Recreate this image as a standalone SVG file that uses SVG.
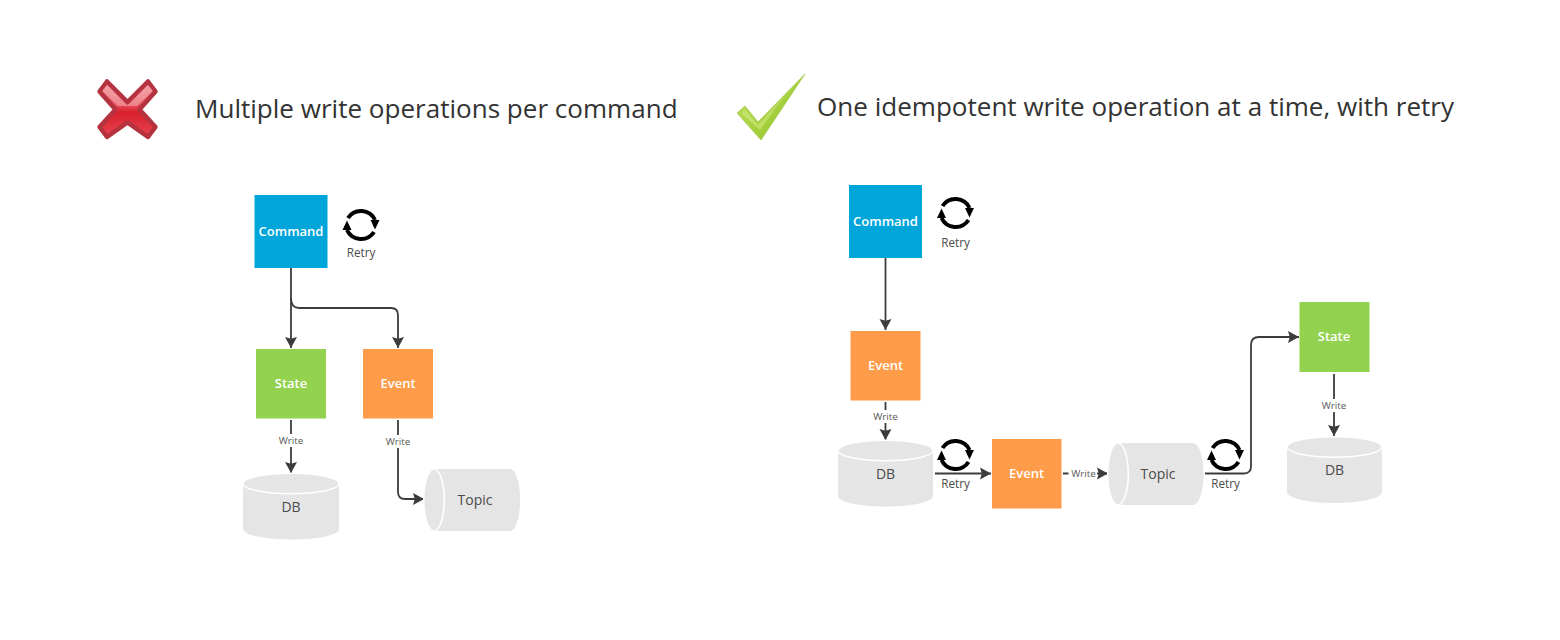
<svg xmlns="http://www.w3.org/2000/svg" width="1560" height="640" viewBox="0 0 1560 640">
<style>
text{font-family:"Open Sans","Noto Sans","Liberation Sans",sans-serif;text-anchor:middle}
.head{font-size:26.050px;fill:#333;text-anchor:start}
.node{font-size:13px;font-weight:600;fill:#fff}
.store{font-size:14px;fill:#4a4a4a}
.retry{font-size:11.700px;fill:#4a4a4a}
.write{font-size:9.800px;fill:#555}
.conn{fill:none;stroke:#3c3c3c;stroke-width:1.800}
.cyl{fill:#e5e5e5}
.cap{fill:#e5e5e5;stroke:#fff;stroke-width:1.500}
.blue{fill:#00a5d9}.green{fill:#92d24f}.orange{fill:#ff9c4a}
</style>
<defs>
<marker id="arrow" markerUnits="userSpaceOnUse" markerWidth="13" markerHeight="14" refX="11" refY="6.500" orient="auto"><path d="M0 .5L11 6.500L0 12.500L1.800 6.500Z" fill="#3c3c3c"/></marker>
<linearGradient id="xg" x1="0" y1="0" x2="0" y2="1"><stop offset="0" stop-color="#f28088"/><stop offset=".42" stop-color="#e8505c"/><stop offset=".55" stop-color="#d8202e"/><stop offset="1" stop-color="#e8444f"/></linearGradient>
<linearGradient id="cg" x1="0" y1="0" x2="1" y2="1"><stop offset="0" stop-color="#c4e562"/><stop offset="1" stop-color="#8cbf22"/></linearGradient>
<g id="retryIcon">
<path d="M-13-7A15.500 15.500 0 0 1 14-5" fill="none" stroke="#000" stroke-width="4"/>
<path d="M13 7A15.500 15.500 0 0 1-14 5" fill="none" stroke="#000" stroke-width="4"/>
<path d="M9.500-5L18.500-5L14 4.500Z" fill="#000"/>
<path d="M-18.500 5L-9.500 5L-14-4.500Z" fill="#000"/>
</g>
</defs>
<rect width="1560" height="640" fill="#fff"/>

<g id="icon-cross">
<path d="M99.500 91.500L107 81.500L127.500 102L148 81.500L155.500 91.500L139.500 109.500L155.500 127L148 137L127.500 122.500L107 137L99.500 127L115.500 109.500Z" fill="url(#xg)" stroke="#b4333f" stroke-width="4.500" stroke-linejoin="round"/>
<path d="M102 90.500L107 85L127.500 105.500L148 85L153 90.500L137 106L118 106Z" fill="#fff" fill-opacity=".3"/>
</g>
<text class="head" x="195" y="118">Multiple write operations per command</text>
<g id="icon-check">
<path d="M737 113L745 106L758 122L805 74L761 140Z" fill="url(#cg)" stroke="#9ac23c" stroke-width=".6"/>
<path d="M741 113L745 109.500L758 125L785 95L760 130Z" fill="#d4ec84" fill-opacity=".55"/>
</g>
<text class="head" x="817" y="116">One idempotent write operation at a time, with retry</text>

<g id="connectors">
<path class="conn" d="M291 268V348" marker-end="url(#arrow)"/>
<path class="conn" d="M291 298Q291 308 299 308H391Q398 308 398 315V348" marker-end="url(#arrow)"/>
<path class="conn" d="M291 420V473" marker-end="url(#arrow)"/>
<path class="conn" d="M398 420V492Q398 499 405 499H424" marker-end="url(#arrow)"/>
<path class="conn" d="M885.500 258V330" marker-end="url(#arrow)"/>
<path class="conn" d="M885.500 402V440" marker-end="url(#arrow)"/>
<path class="conn" d="M935 473.500H991" marker-end="url(#arrow)"/>
<path class="conn" d="M1063 473.500H1108" marker-end="url(#arrow)"/>
<path class="conn" d="M1205 473.500H1244Q1251 473.500 1251 466V345Q1251 337 1259 337H1299" marker-end="url(#arrow)"/>
<path class="conn" d="M1334 374V436" marker-end="url(#arrow)"/>
</g>

<g id="labels">
<rect x="277" y="434" width="28" height="13" fill="#fff"/><text class="write" x="291" y="444">Write</text>
<rect x="384" y="435" width="28" height="13" fill="#fff"/><text class="write" x="398" y="445">Write</text>
<rect x="871" y="410" width="28" height="13" fill="#fff"/><text class="write" x="885.500" y="420">Write</text>
<rect x="1068.500" y="467" width="28.500" height="13" fill="#fff"/><text class="write" x="1083.500" y="477">Write</text>
<rect x="1320" y="399" width="28" height="13" fill="#fff"/><text class="write" x="1334" y="409">Write</text>
</g>

<g id="retry-left-1"><use href="#retryIcon" x="361" y="225"/><text class="retry" x="361" y="257">Retry</text></g>
<g id="retry-right-1"><use href="#retryIcon" x="955.500" y="213"/><text class="retry" x="955.500" y="247">Retry</text></g>
<g id="retry-right-2"><use href="#retryIcon" x="955.500" y="455"/><text class="retry" x="955.500" y="488">Retry</text></g>
<g id="retry-right-3"><use href="#retryIcon" x="1225.500" y="455"/><text class="retry" x="1225.500" y="488">Retry</text></g>

<g id="command-left"><rect class="blue" x="254.500" y="195" width="73" height="73"/><text class="node" x="291" y="235.500">Command</text></g>
<g id="state-left"><rect class="green" x="256" y="349" width="70" height="69.500"/><text class="node" x="291" y="388">State</text></g>
<g id="event-left"><rect class="orange" x="363" y="349" width="70" height="69.500"/><text class="node" x="398" y="388">Event</text></g>
<g id="db-left"><path class="cyl" d="M243 484V529C243 535 264 539.500 291 539.500S339 535 339 529V484Z"/><ellipse class="cap" cx="291" cy="483.500" rx="48" ry="10.250"/><text class="store" x="291" y="512">DB</text></g>
<g id="topic-left"><path class="cyl" d="M434 469H510C516 469 520 483 520 500S516 531 510 531H434Z"/><ellipse class="cap" cx="434" cy="500" rx="10.250" ry="31"/><text class="store" x="475" y="505">Topic</text></g>

<g id="command-right"><rect class="blue" x="849" y="185" width="73" height="73"/><text class="node" x="885.500" y="225.500">Command</text></g>
<g id="event-right-1"><rect class="orange" x="850.500" y="331" width="70" height="69.500"/><text class="node" x="885.500" y="369.500">Event</text></g>
<g id="db-right-1"><path class="cyl" d="M838 451V496C838 502 859 506.500 885.500 506.500S933 502 933 496V451Z"/><ellipse class="cap" cx="885.500" cy="450.500" rx="47.500" ry="10.250"/><text class="store" x="885.500" y="479">DB</text></g>
<g id="event-right-2"><rect class="orange" x="992" y="439" width="69.500" height="69.500"/><text class="node" x="1026.500" y="478">Event</text></g>
<g id="topic-right"><path class="cyl" d="M1118 443H1193C1199 443 1203.500 457 1203.500 474S1199 505 1193 505H1118Z"/><ellipse class="cap" cx="1118" cy="474" rx="10.250" ry="31"/><text class="store" x="1158" y="479">Topic</text></g>
<g id="state-right"><rect class="green" x="1299.500" y="302" width="70" height="70"/><text class="node" x="1334" y="341">State</text></g>
<g id="db-right-2"><path class="cyl" d="M1287 447V492C1287 498 1308 503 1334.500 503S1382 498 1382 492V447Z"/><ellipse class="cap" cx="1334.500" cy="447" rx="47.500" ry="10.250"/><text class="store" x="1334.500" y="475">DB</text></g>
</svg>
